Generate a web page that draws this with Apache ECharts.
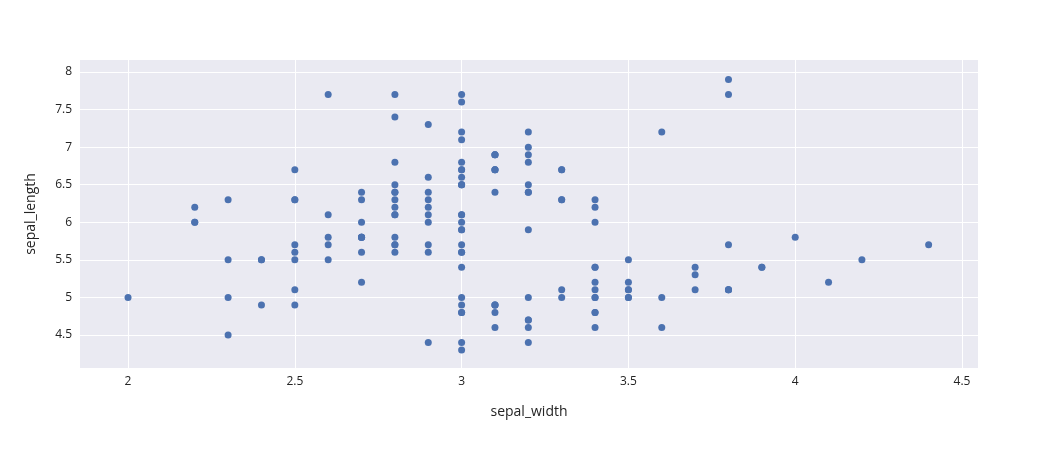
<!DOCTYPE html>
<html><head><meta charset="utf-8">
<script src="https://cdn.jsdelivr.net/npm/echarts@6/dist/echarts.min.js"></script>
<style>html,body{margin:0;background:#fff}#c{width:1058px;height:450px}</style>
</head><body><div id="c"></div>
<script>
// iris: sepal_width, sepal_length
var sepalWidth = [3.5,3.0,3.2,3.1,3.6,3.9,3.4,3.4,2.9,3.1,3.7,3.4,3.0,3.0,4.0,4.4,3.9,3.5,3.8,3.8,3.4,3.7,3.6,3.3,3.4,3.0,3.4,3.5,3.4,3.2,3.1,3.4,4.1,4.2,3.1,3.2,3.5,3.1,3.0,3.4,3.5,2.3,3.2,3.5,3.8,3.0,3.8,3.2,3.7,3.3,
3.2,3.2,3.1,2.3,2.8,2.8,3.3,2.4,2.9,2.7,2.0,3.0,2.2,2.9,2.9,3.1,3.0,2.7,2.2,2.5,3.2,2.8,2.5,2.8,2.9,3.0,2.8,3.0,2.9,2.6,2.4,2.4,2.7,2.7,3.0,3.4,3.1,2.3,3.0,2.5,2.6,3.0,2.6,2.3,2.7,3.0,2.9,2.9,2.5,2.8,
3.3,2.7,3.0,2.9,3.0,3.0,2.5,2.9,2.5,3.6,3.2,2.7,3.0,2.5,2.8,3.2,3.0,3.8,2.6,2.2,3.2,2.8,2.8,2.7,3.3,3.2,2.8,3.0,2.8,3.0,2.8,3.8,2.8,2.8,2.6,3.0,3.4,3.1,3.0,3.1,3.1,3.1,2.7,3.2,3.3,3.0,2.5,3.0,3.4,3.0];
var sepalLength = [5.1,4.9,4.7,4.6,5.0,5.4,4.6,5.0,4.4,4.9,5.4,4.8,4.8,4.3,5.8,5.7,5.4,5.1,5.7,5.1,5.4,5.1,4.6,5.1,4.8,5.0,5.0,5.2,5.2,4.7,4.8,5.4,5.2,5.5,4.9,5.0,5.5,4.9,4.4,5.1,5.0,4.5,4.4,5.0,5.1,4.8,5.1,4.6,5.3,5.0,
7.0,6.4,6.9,5.5,6.5,5.7,6.3,4.9,6.6,5.2,5.0,5.9,6.0,6.1,5.6,6.7,5.6,5.8,6.2,5.6,5.9,6.1,6.3,6.1,6.4,6.6,6.8,6.7,6.0,5.7,5.5,5.5,5.8,6.0,5.4,6.0,6.7,6.3,5.6,5.5,5.5,6.1,5.8,5.0,5.6,5.7,5.7,6.2,5.1,5.7,
6.3,5.8,7.1,6.3,6.5,7.6,4.9,7.3,6.7,7.2,6.5,6.4,6.8,5.7,5.8,6.4,6.5,7.7,7.7,6.0,6.9,5.6,7.7,6.3,6.7,7.2,6.2,6.1,6.4,7.2,7.4,7.9,6.4,6.3,6.1,7.7,6.3,6.4,6.0,6.9,6.7,6.9,5.8,6.8,6.7,6.7,6.3,6.5,6.2,5.9];
var xTicks = [2,2.5,3,3.5,4,4.5];
var yTicks = [4.5,5,5.5,6,6.5,7,7.5,8];

var points = sepalWidth.map(function (w, i) { return [w, sepalLength[i]]; });
var gridLines = xTicks.map(function (v) { return {xAxis: v}; })
  .concat(yTicks.map(function (v) { return {yAxis: v}; }));

var chart = echarts.init(document.getElementById('c'));
chart.setOption({
  animation: false,
  textStyle: {fontFamily: 'Open Sans, sans-serif'},
  grid: {left: 80, right: 80, top: 60, bottom: 82, backgroundColor: '#EAEAF2', show: true, borderWidth: 0},
  xAxis: {
    type: 'value', min: 1.856, max: 4.548,
    name: 'sepal_width', nameLocation: 'middle', nameGap: 37,
    nameTextStyle: {color: '#242424', fontSize: 14},
    axisLine: {show: false}, axisTick: {show: false}, splitLine: {show: false},
    axisLabel: {customValues: xTicks, color: '#242424', fontSize: 12, margin: 8}
  },
  yAxis: {
    type: 'value', min: 4.06, max: 8.16,
    name: 'sepal_length', nameLocation: 'middle', nameGap: 42,
    nameTextStyle: {color: '#242424', fontSize: 14},
    axisLine: {show: false}, axisTick: {show: false}, splitLine: {show: false},
    axisLabel: {customValues: yTicks, color: '#242424', fontSize: 12, margin: 8}
  },
  series: [
    {
      type: 'scatter', data: [], z: 1, silent: true,
      markLine: {silent: true, symbol: 'none', label: {show: false},
        lineStyle: {color: '#ffffff', type: 'solid', width: 1}, data: gridLines}
    },
    {
      type: 'scatter', data: points, z: 5, symbolSize: 7,
      itemStyle: {color: '#4C72B0', opacity: 1}
    }
  ]
});
</script></body></html>
